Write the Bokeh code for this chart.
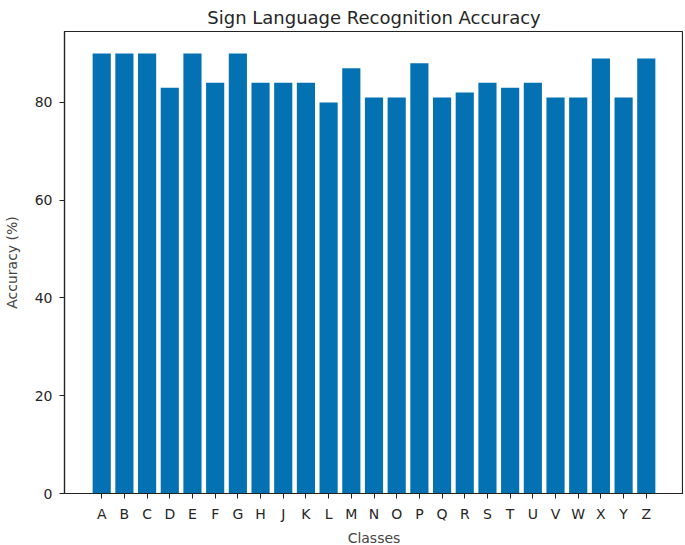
from bokeh.plotting import figure
from bokeh.models import FactorRange, Range1d, FixedTicker
from bokeh.embed import file_html
from bokeh.resources import INLINE

classes = ["A", "B", "C", "D", "E", "F", "G", "H", "J", "K", "L", "M", "N",
           "O", "P", "Q", "R", "S", "T", "U", "V", "W", "X", "Y", "Z"]
accuracy = [90, 90, 90, 83, 90, 84, 90, 84, 84, 84, 80, 87, 81,
            81, 88, 81, 82, 84, 83, 84, 81, 81, 89, 81, 89]
y_ticks = [0, 20, 40, 60, 80]

FONT = "DejaVu Sans"
TXT = "#262626"

p = figure(
    width=683, height=548,
    x_range=FactorRange(factors=classes, range_padding=0.0912, range_padding_units="percent"),
    y_range=Range1d(0, 94.5),
    output_backend="svg", toolbar_location=None,
    title="Sign Language Recognition Accuracy",
    min_border_left=0, min_border_right=0, min_border_top=0, min_border_bottom=0,
)

p.vbar(x=classes, top=accuracy, width=0.8, color="#0471b3", line_color="#0471b3", line_width=0)

p.title.align = "center"
p.title.text_font = FONT
p.title.text_font_size = "18px"
p.title.text_font_style = "normal"
p.title.text_color = TXT
p.title.standoff = 8

p.grid.visible = False
p.outline_line_color = "#222222"
p.outline_line_width = 1.2

for ax in (p.xaxis, p.yaxis):
    ax.axis_line_color = "#222222"
    ax.axis_line_width = 1.2
    ax.major_tick_line_color = "#222222"
    ax.major_tick_in = 0
    ax.major_tick_out = 5
    ax.minor_tick_line_color = None
    ax.major_label_text_font = FONT
    ax.major_label_text_font_size = "14px"
    ax.major_label_text_color = TXT
    ax.axis_label_text_font = FONT
    ax.axis_label_text_font_size = "14px"
    ax.axis_label_text_font_style = "normal"
    ax.axis_label_text_color = "#444444"

p.yaxis.ticker = FixedTicker(ticks=y_ticks)
p.yaxis.axis_label = "Accuracy (%)"
p.yaxis.major_label_standoff = 7
p.yaxis.axis_label_standoff = 12
p.xaxis.axis_label = "Classes"
p.xaxis.major_label_standoff = 7
p.xaxis.axis_label_standoff = 5

open("out.html", "w").write(file_html(p, INLINE))
